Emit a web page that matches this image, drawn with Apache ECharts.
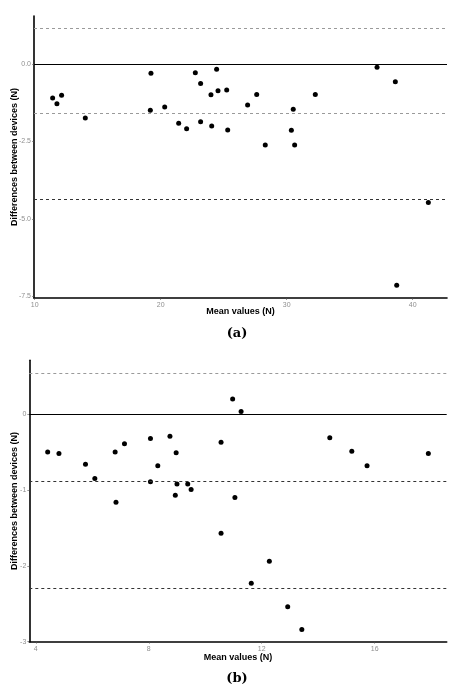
<!DOCTYPE html>
<html>
<head>
<meta charset="utf-8">
<script src="https://cdn.jsdelivr.net/npm/echarts@6/dist/echarts.min.js"></script>
<style>
html,body{margin:0;padding:0;background:#fff;}
#main{width:474px;height:690px;}
</style>
</head>
<body>
<div id="main"></div>
<script>
// ---- Panel (a) data ----
const meanA = [11.43, 11.77, 12.14, 14.02, 19.23, 19.18, 20.32, 21.43, 22.06, 22.75, 23.17, 23.17, 23.99, 24.05, 24.44, 24.55, 25.24, 25.32, 26.90, 27.62, 28.30, 30.37, 30.52, 30.63, 32.27, 37.17, 38.62, 38.73, 41.24];
const diffA = [-1.10, -1.28, -1.01, -1.74, -0.30, -1.49, -1.39, -1.91, -2.09, -0.28, -0.63, -1.86, -0.99, -2.00, -0.17, -0.86, -0.84, -2.13, -1.32, -0.98, -2.61, -2.14, -1.46, -2.61, -0.98, -0.10, -0.57, -7.14, -4.47];
const biasA = -1.60;
const upperLoaA = 1.15;
const lowerLoaA = -4.35;
const xTicksA = [10, 20, 30, 40];
const yTicksA = [0, -2.5, -5, -7.5];

// ---- Panel (b) data ----
const meanB = [4.42, 4.82, 5.76, 6.09, 6.81, 6.84, 7.14, 8.06, 8.06, 8.32, 8.75, 8.94, 8.97, 9.00, 9.38, 9.50, 10.56, 10.56, 10.97, 11.05, 11.27, 11.63, 12.27, 12.92, 13.42, 14.41, 15.19, 15.73, 17.90];
const diffB = [-0.50, -0.52, -0.66, -0.85, -0.50, -1.16, -0.39, -0.32, -0.89, -0.68, -0.29, -1.07, -0.51, -0.92, -0.92, -0.995, -0.37, -1.57, 0.20, -1.10, 0.035, -2.23, -1.94, -2.54, -2.84, -0.31, -0.49, -0.68, -0.52];
const biasB = -0.88;
const upperLoaB = 0.54;
const lowerLoaB = -2.30;
const xTicksB = [4, 8, 12, 16];
const yTicksB = [0, -1, -2, -3];

const xTitle = 'Mean values (N)';
const yTitle = 'Differences between devices (N)';
const panelLabels = ['(a)', '(b)'];

function pairs(xs, ys){ return xs.map((x,i)=>[x, ys[i]]); }

const tickLabelStyle = {color:'#8f8f8f', fontSize:7, fontFamily:'Liberation Sans, Arial, sans-serif'};
const nameStyle = {color:'#000', fontSize:9, fontWeight:'bold', fontFamily:'Liberation Sans, Arial, sans-serif'};

function xAxisDef(gi, min, max, ticks, gap){
  return {
    type:'value', gridIndex:gi, min:min, max:max,
    name:xTitle, nameLocation:'middle', nameGap:gap, nameMoveOverlap:false, nameTextStyle:nameStyle,
    axisLine:{show:true, onZero:false, lineStyle:{color:'#000', width:1.6}},
    axisTick:{show:true, length:2, customValues:ticks, lineStyle:{color:'#555', width:0.6}},
    axisLabel:{show:true, customValues:ticks, margin:4, showMinLabel:true, showMaxLabel:true, ...tickLabelStyle},
    splitLine:{show:false}
  };
}
function yAxisDef(gi, min, max, ticks, dec, gap){
  return {
    type:'value', gridIndex:gi, min:min, max:max,
    name:yTitle, nameLocation:'middle', nameGap:gap, nameRotate:90, nameMoveOverlap:false, nameTextStyle:nameStyle,
    axisLine:{show:true, onZero:false, lineStyle:{color:'#000', width:1.6}},
    axisTick:{show:true, length:2, customValues:ticks, lineStyle:{color:'#555', width:0.6}},
    axisLabel:{show:true, customValues:ticks, margin:3, showMinLabel:true, showMaxLabel:true, formatter:v=>Number(v).toFixed(dec), ...tickLabelStyle},
    splitLine:{show:false}
  };
}
function lines(bias, up, lo, midColor){
  return {
    silent:true, symbol:'none', label:{show:false},
    data:[
      {yAxis:0, lineStyle:{color:'#000', width:1, type:'solid'}},
      {yAxis:up, lineStyle:{color:'#9a9a9a', width:1, type:[3,3]}},
      {yAxis:bias, lineStyle:{color:midColor, width:1, type:[3,3]}},
      {yAxis:lo, lineStyle:{color:'#333', width:1, type:[3,3]}}
    ]
  };
}

const chart = echarts.init(document.getElementById('main'), null, {renderer:'canvas'});
chart.setOption({
  backgroundColor:'#fff',
  animation:false,
  grid:[
    {left:34, top:16, width:413, height:282, outerBoundsMode:'none', containLabel:false},
    {left:29.3, top:360.3, width:417.4, height:281.4, outerBoundsMode:'none', containLabel:false}
  ],
  xAxis:[
    xAxisDef(0, 9.95, 42.72, xTicksA, 9.5),
    xAxisDef(1, 3.77, 18.55, xTicksB, 11)
  ],
  yAxis:[
    yAxisDef(0, -7.55, 1.55, yTicksA, 1, 15),
    yAxisDef(1, -3.0, 0.71, yTicksB, 0, 10.5)
  ],
  series:[
    {type:'scatter', xAxisIndex:0, yAxisIndex:0, data:pairs(meanA, diffA), symbolSize:5,
     itemStyle:{color:'#000', opacity:1}, markLine:lines(biasA, upperLoaA, lowerLoaA, '#9a9a9a'), z:3},
    {type:'scatter', xAxisIndex:1, yAxisIndex:1, data:pairs(meanB, diffB), symbolSize:5,
     itemStyle:{color:'#000', opacity:1}, markLine:lines(biasB, upperLoaB, lowerLoaB, '#333'), z:3}
  ],
  graphic:[
    {type:'text', left:'center', top:327, style:{text:panelLabels[0], fill:'#000', font:'bold 13px "DejaVu Serif", "Liberation Serif", serif', textAlign:'center'}},
    {type:'text', left:'center', top:672, style:{text:panelLabels[1], fill:'#000', font:'bold 13px "DejaVu Serif", "Liberation Serif", serif', textAlign:'center'}}
  ]
});
</script>
</body>
</html>
